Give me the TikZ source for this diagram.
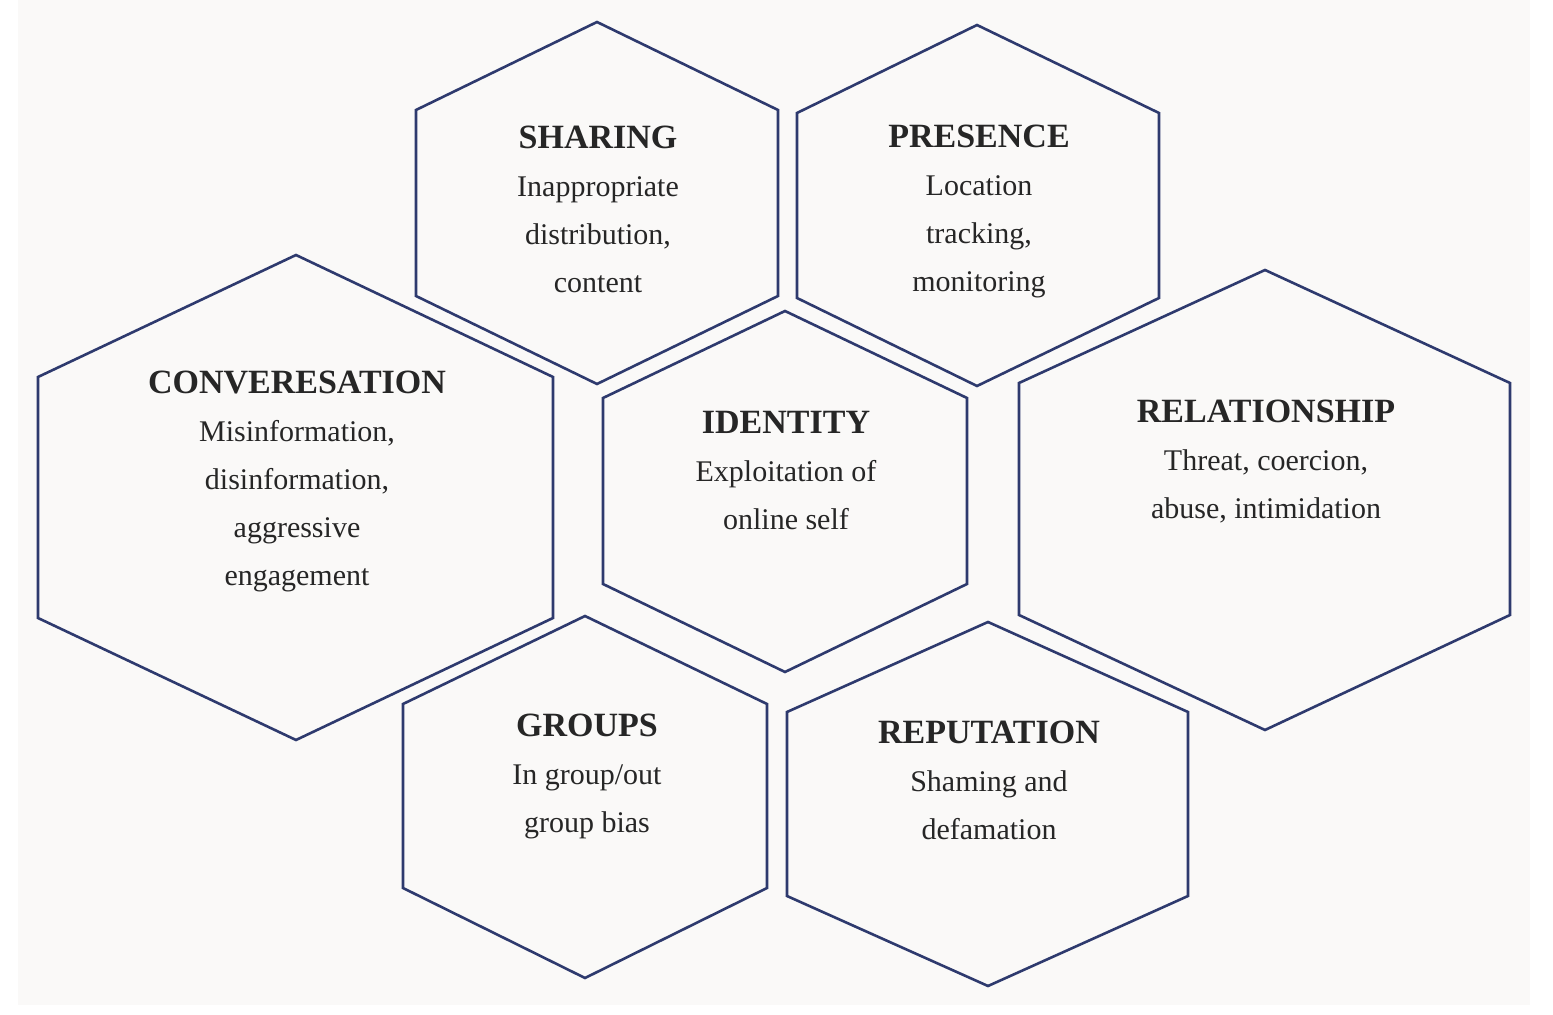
\documentclass[tikz,border=0pt]{standalone}
\usepackage{fontspec}
\setmainfont{Liberation Serif}
\definecolor{hexline}{HTML}{2E3A6E}
\definecolor{bg}{HTML}{FAF9F8}
\begin{document}
\begin{tikzpicture}[x=0.5pt,y=-0.5pt,
  hex/.style={draw=hexline,line width=1.3pt,line join=miter},
  lbl/.style={align=center,font=\fontsize{15}{24}\selectfont,text=black!85}]
\useasboundingbox (0,0) rectangle (1553,1015);
\fill[white] (0,0) rectangle (1553,1015);
\fill[bg] (18,0) rectangle (1530,1005);
\draw[hex] (597,22)--(778,110)--(778,296)--(597,384)--(416,296)--(416,110)--cycle;
\draw[hex] (977,25)--(1159,113)--(1159,298)--(977,386)--(797,298)--(797,113)--cycle;
\draw[hex] (296,255)--(553,377)--(553,618)--(296,740)--(38,618)--(38,377)--cycle;
\draw[hex] (785,311)--(967,398)--(967,584)--(785,672)--(603,584)--(603,398)--cycle;
\draw[hex] (1265,270)--(1510,383)--(1510,615)--(1265,730)--(1019,615)--(1019,383)--cycle;
\draw[hex] (585,616)--(767,704)--(767,888)--(585,978)--(403,888)--(403,704)--cycle;
\draw[hex] (988,622)--(1188,712)--(1188,896)--(988,986)--(787,896)--(787,712)--cycle;
\newcommand{\hd}[1]{{\fontsize{17}{24}\selectfont\bfseries #1}}
\node[lbl] (sharing) at (598,209) {\hd{SHARING}\\Inappropriate\\distribution,\\content};
\node[lbl] (presence) at (979,211) {\hd{PRESENCE}\\Location\\tracking,\\monitoring};
\node[lbl] (conv) at (297,481) {\hd{CONVERESATION}\\Misinformation,\\disinformation,\\aggressive\\engagement};
\node[lbl] (identity) at (786,471) {\hd{IDENTITY}\\Exploitation of\\online self};
\node[lbl] (rel) at (1266,462) {\hd{RELATIONSHIP}\\Threat,\ coercion,\\abuse, intimidation};
\node[lbl] (groups) at (587,776) {\hd{GROUPS}\\In group/out\\group bias};
\node[lbl] (rep) at (989,780) {\hd{REPUTATION}\\Shaming and\\defamation};
\end{tikzpicture}
\end{document}
